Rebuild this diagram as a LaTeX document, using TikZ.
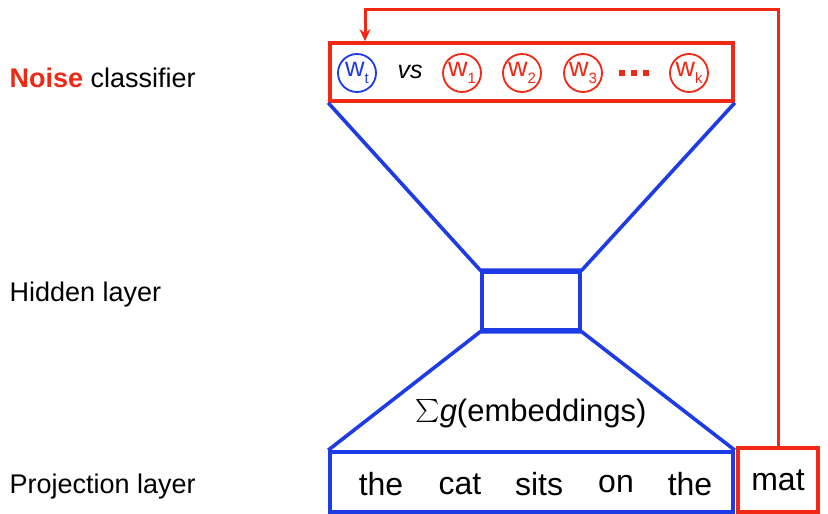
\documentclass[tikz,border=0pt]{standalone}
\usepackage{graphicx}
\usepackage{fontspec}
\setmainfont{Liberation Sans}
\usetikzlibrary{arrows.meta}
\definecolor{myred}{RGB}{240,40,20}
\definecolor{myblue}{RGB}{30,60,230}
\newcommand{\sbs}[1]{\raisebox{-0.25em}{\fontsize{15}{16}\selectfont #1}}
\begin{document}
\begin{tikzpicture}[x=1pt,y=-1pt,
  bl/.style={draw=myblue,line width=3.6pt},
  rd/.style={draw=myred,line width=3.6pt},
  cw/.style={circle,draw=myred,line width=1.8pt,minimum size=38pt,inner sep=0pt,text=myred,font=\fontsize{27}{28}\selectfont},
  lab/.style={anchor=west,font=\fontsize{27}{28}\selectfont},
  wd/.style={font=\fontsize{32}{34}\selectfont}]
\useasboundingbox (0,0) rectangle (828,514);
% top red box
\node[rd,minimum width=403pt,minimum height=58pt,inner sep=0pt] (top) at (531.5,72) {};
\node[cw,draw=myblue,text=myblue] (wt) at (357,73) {w\sbs{t}};
\node[font=\itshape\fontsize{25}{26}\selectfont] (vs) at (410,72) {vs};
\node[cw] (w1) at (462,73) {w\sbs{1}};
\node[cw] (w2) at (522,73) {w\sbs{2}};
\node[cw] (w3) at (583,73) {w\sbs{3}};
\foreach \i/\xx in {1/622,2/634,3/646}
  \fill[myred] (\xx-3,70) rectangle (\xx+3,76);
\node[cw] (wk) at (689,73) {w\sbs{k}};
% hidden
\node[bl,minimum width=98pt,minimum height=58pt,inner sep=0pt] (hid) at (531,301) {};
\draw[bl,line join=round] (top.south west) -- (hid.north west) -- (hid.north east) -- (top.south east);
% bottom
\node[bl,minimum width=403pt,minimum height=60pt,inner sep=0pt] (proj) at (531.5,482) {};
\draw[bl,line join=round] (proj.north west) -- (hid.south west) -- (hid.south east) -- (proj.north east);
\node[font=\fontsize{31}{34}\selectfont] (sum) at (531,413) {\raisebox{-0.15em}{\scalebox{2.3}{$\sum$}}\textit{g}(embeddings)};
\node[wd] (t1) at (381,484) {the};
\node[wd] (t2) at (460,484) {cat};
\node[wd] (t3) at (539,484) {sits};
\node[wd] (t4) at (616,484) {on};
\node[wd] (t5) at (690,484) {the};
\node[rd,minimum width=80pt,minimum height=64pt,inner sep=0pt,font=\fontsize{32}{34}\selectfont] (mat) at (778,480) {mat};
\coordinate (c1) at (778,9);
\coordinate (c2) at (365,9);
\draw[draw=myred,line width=3pt,-{Stealth[length=12pt,width=11pt]}] (mat.north) -- (c1) -- (c2) -- (c2 |- top.north);
% labels
\node[lab] (l1) at (6,78) {\textcolor{myred}{\bfseries Noise} classifier};
\node[lab] (l2) at (6,295) {Hidden layer};
\node[lab] (l3) at (6,487) {Projection layer};
\end{tikzpicture}
\end{document}
